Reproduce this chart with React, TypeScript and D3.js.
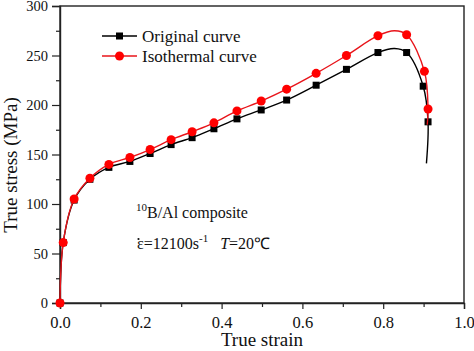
import React, { useEffect, useRef } from 'react';
import * as d3 from 'd3';

// marker points
const origStrain = [0, 0.008, 0.035, 0.074, 0.121, 0.173, 0.223, 0.275, 0.327, 0.381, 0.438, 0.498, 0.561, 0.634, 0.709, 0.787, 0.858, 0.899, 0.911];
const origStress = [0, 61, 104, 125, 137, 143, 151, 160, 167, 176, 186, 195, 205, 220, 236, 253, 253, 219, 183];
const isoStrain = [0, 0.008, 0.035, 0.074, 0.121, 0.173, 0.223, 0.275, 0.327, 0.381, 0.438, 0.498, 0.561, 0.634, 0.709, 0.787, 0.858, 0.902, 0.911];
const isoStress = [0, 61, 105, 126, 140, 147, 155, 165, 173, 182, 194, 204, 216, 232, 250, 270, 271, 234, 196];

// extra points of the continuous curves (peak and tail)
const origPeak = [0.828, 257];
const origTail = [0.907, 141];
const isoPeak = [0.828, 275];
const isoTail = [0.909, 180];

const xTicks = [0, 0.2, 0.4, 0.6, 0.8, 1.0];
const yTicks = [0, 50, 100, 150, 200, 250, 300];

const W = 474;
const H = 351;
const FONT = 'Liberation Serif';

const buildCurve = (xs: number[], ys: number[], peak: number[], tail: number[]) => {
  const pts: [number, number][] = xs.map((x, i) => [x, ys[i]]);
  const peakIdx = pts.findIndex(p => p[0] > peak[0]);
  pts.splice(peakIdx, 0, [peak[0], peak[1]]);
  pts.push([tail[0], tail[1]]);
  return pts;
};

const App = () => {
  const ref = useRef<SVGSVGElement>(null);

  useEffect(() => {
    const svg = d3.select(ref.current);
    svg.selectAll('*').remove();

    const x = d3.scaleLinear().domain([0, 1]).range([60, 464]);
    const y = d3.scaleLinear().domain([0, 300]).range([303, 6]);

    // frame
    svg.append('rect')
      .attr('x', x(0)).attr('y', y(300))
      .attr('width', x(1) - x(0)).attr('height', y(0) - y(300))
      .attr('fill', 'none').attr('stroke', '#222').attr('stroke-width', 1.4);

    // bottom axis
    const xAxis = svg.append('g').attr('transform', `translate(0,${y(0)})`)
      .call(d3.axisBottom(x).tickValues(xTicks).tickFormat(d3.format('.1f')).tickSize(6).tickPadding(7));
    svg.append('g').attr('transform', `translate(0,${y(0)})`)
      .call(d3.axisBottom(x).tickValues(d3.range(0.1, 1, 0.2)).tickFormat(() => '').tickSize(4))
      .call(g => g.select('.domain').remove());

    // left axis
    const yAxis = svg.append('g').attr('transform', `translate(${x(0)},0)`)
      .call(d3.axisLeft(y).tickValues(yTicks).tickSize(8).tickPadding(4));
    svg.append('g').attr('transform', `translate(${x(0)},0)`)
      .call(d3.axisLeft(y).tickValues(d3.range(25, 300, 50)).tickFormat(() => '').tickSize(4))
      .call(g => g.select('.domain').remove());

    [xAxis, yAxis].forEach(g => {
      g.attr('font-family', null).attr('font-size', null);
      g.select('.domain').attr('stroke', '#222').attr('stroke-width', 1.4);
      g.selectAll('text').attr('fill', '#111');
    });
    xAxis.selectAll('text').style('font-size', '16.5px');
    yAxis.selectAll('text').style('font-size', '14.5px');
    svg.selectAll('.tick line').attr('stroke', '#222').attr('stroke-width', 1.2);

    // titles
    svg.append('text')
      .attr('x', (x(0) + x(1)) / 2).attr('y', 346)
      .attr('text-anchor', 'middle')
      .style('font-size', '19px').attr('fill', '#111')
      .text('True strain');
    svg.append('text')
      .attr('transform', 'translate(17,165) rotate(-90)')
      .attr('text-anchor', 'middle')
      .style('font-size', '19px').attr('fill', '#111')
      .text('True stress (MPa)');

    const line = d3.line<[number, number]>()
      .x(d => x(d[0])).y(d => y(d[1]))
      .curve(d3.curveCatmullRom.alpha(0.5));

    // original curve (black squares)
    svg.append('path')
      .attr('d', line(buildCurve(origStrain, origStress, origPeak, origTail)))
      .attr('fill', 'none').attr('stroke', '#000').attr('stroke-width', 1.4);
    svg.append('g').selectAll('rect')
      .data(origStrain.map((s, i) => [s, origStress[i]]))
      .enter().append('rect')
      .attr('x', d => x(d[0]) - 3.5).attr('y', d => y(d[1]) - 3.5)
      .attr('width', 7).attr('height', 7)
      .attr('fill', '#000');

    // isothermal curve (red circles)
    svg.append('path')
      .attr('d', line(buildCurve(isoStrain, isoStress, isoPeak, isoTail)))
      .attr('fill', 'none').attr('stroke', '#e8141a').attr('stroke-width', 1.4);
    svg.append('g').selectAll('circle')
      .data(isoStrain.map((s, i) => [s, isoStress[i]]))
      .enter().append('circle')
      .attr('cx', d => x(d[0])).attr('cy', d => y(d[1]))
      .attr('r', 4.5)
      .attr('fill', '#ff0000');

    // legend
    const legend = svg.append('g').style('font-size', '17px').attr('fill', '#111');
    legend.append('line').attr('x1', 102).attr('x2', 137).attr('y1', 36).attr('y2', 36).attr('stroke', '#000').attr('stroke-width', 1.4);
    legend.append('rect').attr('x', 116).attr('y', 32.5).attr('width', 7).attr('height', 7).attr('fill', '#000');
    legend.append('text').attr('x', 142).attr('y', 42).text('Original curve');
    legend.append('line').attr('x1', 102).attr('x2', 137).attr('y1', 56).attr('y2', 56).attr('stroke', '#e8141a').attr('stroke-width', 1.4);
    legend.append('circle').attr('cx', 119.5).attr('cy', 56).attr('r', 4.5).attr('fill', '#ff0000');
    legend.append('text').attr('x', 142).attr('y', 62).text('Isothermal curve');

    // annotation
    const ann = svg.append('g').style('font-size', '16px').attr('fill', '#111');
    const t1 = ann.append('text').attr('x', 136).attr('y', 218);
    t1.append('tspan').style('font-size', '11px').attr('dy', -7).text('10');
    t1.append('tspan').attr('dy', 7).text('B/Al composite');
    const t2 = ann.append('text').attr('x', 137).attr('y', 249);
    t2.append('tspan').text('ε=12100s');
    t2.append('tspan').style('font-size', '11px').attr('dy', -7).text('-1');
    t2.append('tspan').attr('dy', 7).attr('dx', 12).attr('font-style', 'italic').text('T');
    t2.append('tspan').text('=20℃');
    // dot over epsilon (strain rate)
    ann.append('circle').attr('cx', 138.5).attr('cy', 239).attr('r', 1.1).attr('fill', '#111');
  }, []);

  return <svg ref={ref} width={W} height={H} style={{ position: 'absolute', left: 0, top: 0, background: '#fff', fontFamily: FONT }} />;
};

export default App;
